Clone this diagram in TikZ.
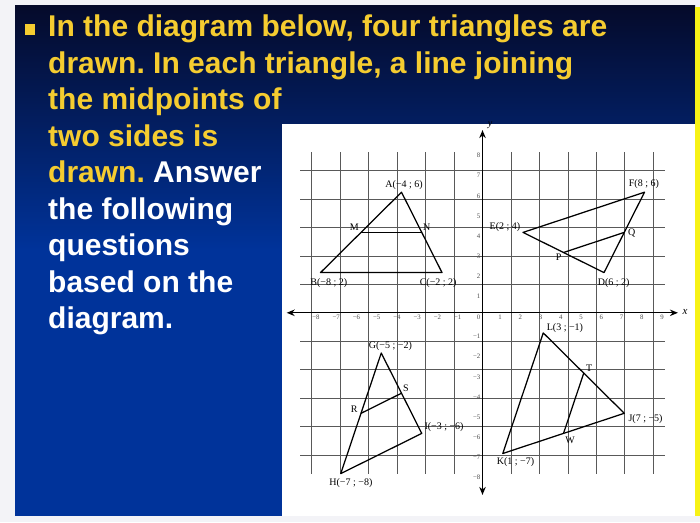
\documentclass[tikz,border=0pt]{standalone}
\usepackage{fontspec}
\setmainfont{Liberation Serif}
\newfontfamily\headfont{Liberation Sans}
\usetikzlibrary{arrows.meta}
\definecolor{pagebg}{HTML}{F3F3F7}
\definecolor{navytop}{HTML}{050A2A}
\definecolor{navymid}{HTML}{0A2680}
\definecolor{royal}{HTML}{00339A}
\definecolor{gold}{HTML}{F5CC30}
\definecolor{sideyellow}{HTML}{F7F217}
\frenchspacing
\begin{document}
\begin{tikzpicture}[x=1pt,y=-1pt,
  headline/.style={anchor=base west, inner sep=0pt, font=\headfont\bfseries\fontsize{30}{36}\selectfont},
  ptlabel/.style={font=\fontsize{10}{12}\selectfont, inner sep=0pt},
  ticklabel/.style={font=\fontsize{6.8}{8}\selectfont, text=black!70, inner sep=0pt},
  gridline/.style={draw=black!65, line width=0.7pt},
  axisline/.style={draw=black, line width=1.3pt},
  triside/.style={draw=black, line width=1.25pt, line join=round},
  axtip/.tip={Stealth[length=8pt,width=6.5pt]}
]
\useasboundingbox (0,0) rectangle (700,522);
\fill[pagebg] (0,0) rectangle (700,522);
\shade[top color=navytop, middle color=navymid, bottom color=royal] (15,5) rectangle (695,250);
\fill[royal] (15,249.5) rectangle (695,516);
\fill[sideyellow] (695,7) rectangle (700,516);
\fill[white] (282,124) rectangle (695,516);

% header text
\fill[gold] (25,24) rectangle (35,35);
\node[headline, text=gold] (l1) at (48,36.7) {In the diagram below, four triangles are};
\node[headline, text=gold] (l2) at (48,73.2) {drawn. In each triangle, a line joining};
\node[headline, text=gold] (l3) at (48,109.7) {the midpoints of};
\node[headline, text=gold] (l4) at (48,146.2) {two sides is};
\node[headline, text=white] (l5) at (48,182.7) {\textcolor{gold}{drawn.} Answer};
\node[headline, text=white] (l6) at (48,219.2) {the following};
\node[headline, text=white] (l7) at (48,255.7) {questions};
\node[headline, text=white] (l8) at (48,292.2) {based on the};
\node[headline, text=white] (l9) at (48,328.7) {diagram.};

% graph
\begin{scope}[shift={(482.5,312.8)}, x=20.25pt, y=20.1pt]
  \draw[gridline] (-9,-8) grid (9,8);
  \coordinate (xl) at (-9.67,0);
  \coordinate (xr) at (9.65,0);
  \coordinate (yt) at (0,9.09);
  \coordinate (yb) at (0,-9.06);
  \draw[axisline, axtip-axtip] (xl) -- (xr);
  \draw[axisline, axtip-axtip] (yb) -- (yt);
  \node[font=\itshape\fontsize{11}{12}\selectfont, inner sep=0pt] (xlab) at (10.0,0.05) {x};
  \node[font=\itshape\fontsize{10}{12}\selectfont, inner sep=0pt] (ylab) at (0.37,9.34) {y};

  \foreach \i in {1,...,8} {
    \node[ticklabel, anchor=north east] (txn\i) at (-\i-0.04,-0.1) {−\i};
    \node[ticklabel, anchor=north east] (tyn\i) at (-0.1,-\i-0.06) {−\i};
    \node[ticklabel, anchor=north east] (typ\i) at (-0.1,\i-0.06) {\i};
  }
  \foreach \i in {1,...,9} {
    \node[ticklabel, anchor=north east] (txp\i) at (\i-0.04,-0.1) {\i};
  }
  \node[ticklabel, anchor=north east] (tx0) at (-0.1,-0.1) {0};

  % points
  \coordinate (A) at (-4,6);  \coordinate (B) at (-8,2);  \coordinate (C) at (-2,2);
  \coordinate (M) at (-6,4);  \coordinate (N) at (-3,4);
  \coordinate (E) at (2,4);   \coordinate (F) at (8,6);   \coordinate (D) at (6,2);
  \coordinate (P) at (4,3);   \coordinate (Q) at (7,4);
  \coordinate (G) at (-5,-2); \coordinate (H) at (-7,-8); \coordinate (I) at (-3,-6);
  \coordinate (R) at (-6,-5); \coordinate (S) at (-4,-4);
  \coordinate (L) at (3,-1);  \coordinate (K) at (1,-7);  \coordinate (J) at (7,-5);
  \coordinate (T) at (5,-3);  \coordinate (W) at (4,-6);

  \draw[triside] (A) -- (B) -- (C) -- cycle;
  \draw[triside] (M) -- (N);
  \draw[triside] (E) -- (F) -- (D) -- cycle;
  \draw[triside] (P) -- (Q);
  \draw[triside] (G) -- (H) -- (I) -- cycle;
  \draw[triside] (R) -- (S);
  \draw[triside] (L) -- (K) -- (J) -- cycle;
  \draw[triside] (T) -- (W);

  % labels
  \node[ptlabel] (labA) at (-3.87,6.36) {A(−4 ; 6)};
  \node[ptlabel] (labM) at (-6.33,4.28) {M};
  \node[ptlabel] (labN) at (-2.76,4.28) {N};
  \node[ptlabel] (labB) at (-7.59,1.50) {B(−8 ; 2)};
  \node[ptlabel] (labC) at (-2.19,1.50) {C(−2 ; 2)};
  \node[ptlabel] (labE) at (1.11,4.28) {E(2 ; 4)};
  \node[ptlabel] (labF) at (7.97,6.41) {F(8 ; 6)};
  \node[ptlabel] (labQ) at (7.37,3.99) {Q};
  \node[ptlabel] (labP) at (3.76,2.76) {P};
  \node[ptlabel] (labD) at (6.48,1.50) {D(6 ; 2)};
  \node[ptlabel] (labG) at (-4.55,-1.65) {G(−5 ; −2)};
  \node[ptlabel] (labS) at (-3.78,-3.76) {S};
  \node[ptlabel] (labR) at (-6.33,-4.80) {R};
  \node[ptlabel] (labI) at (-1.90,-5.70) {I(−3 ; −6)};
  \node[ptlabel] (labH) at (-6.50,-8.48) {H(−7 ; −8)};
  \node[ptlabel] (labL) at (4.07,-0.77) {L(3 ; −1)};
  \node[ptlabel] (labT) at (5.27,-2.76) {T};
  \node[ptlabel] (labJ) at (8.05,-5.30) {J(7 ; −5)};
  \node[ptlabel] (labW) at (4.32,-6.33) {W};
  \node[ptlabel] (labK) at (1.63,-7.41) {K(1 ; −7)};
\end{scope}
\end{tikzpicture}
\end{document}
